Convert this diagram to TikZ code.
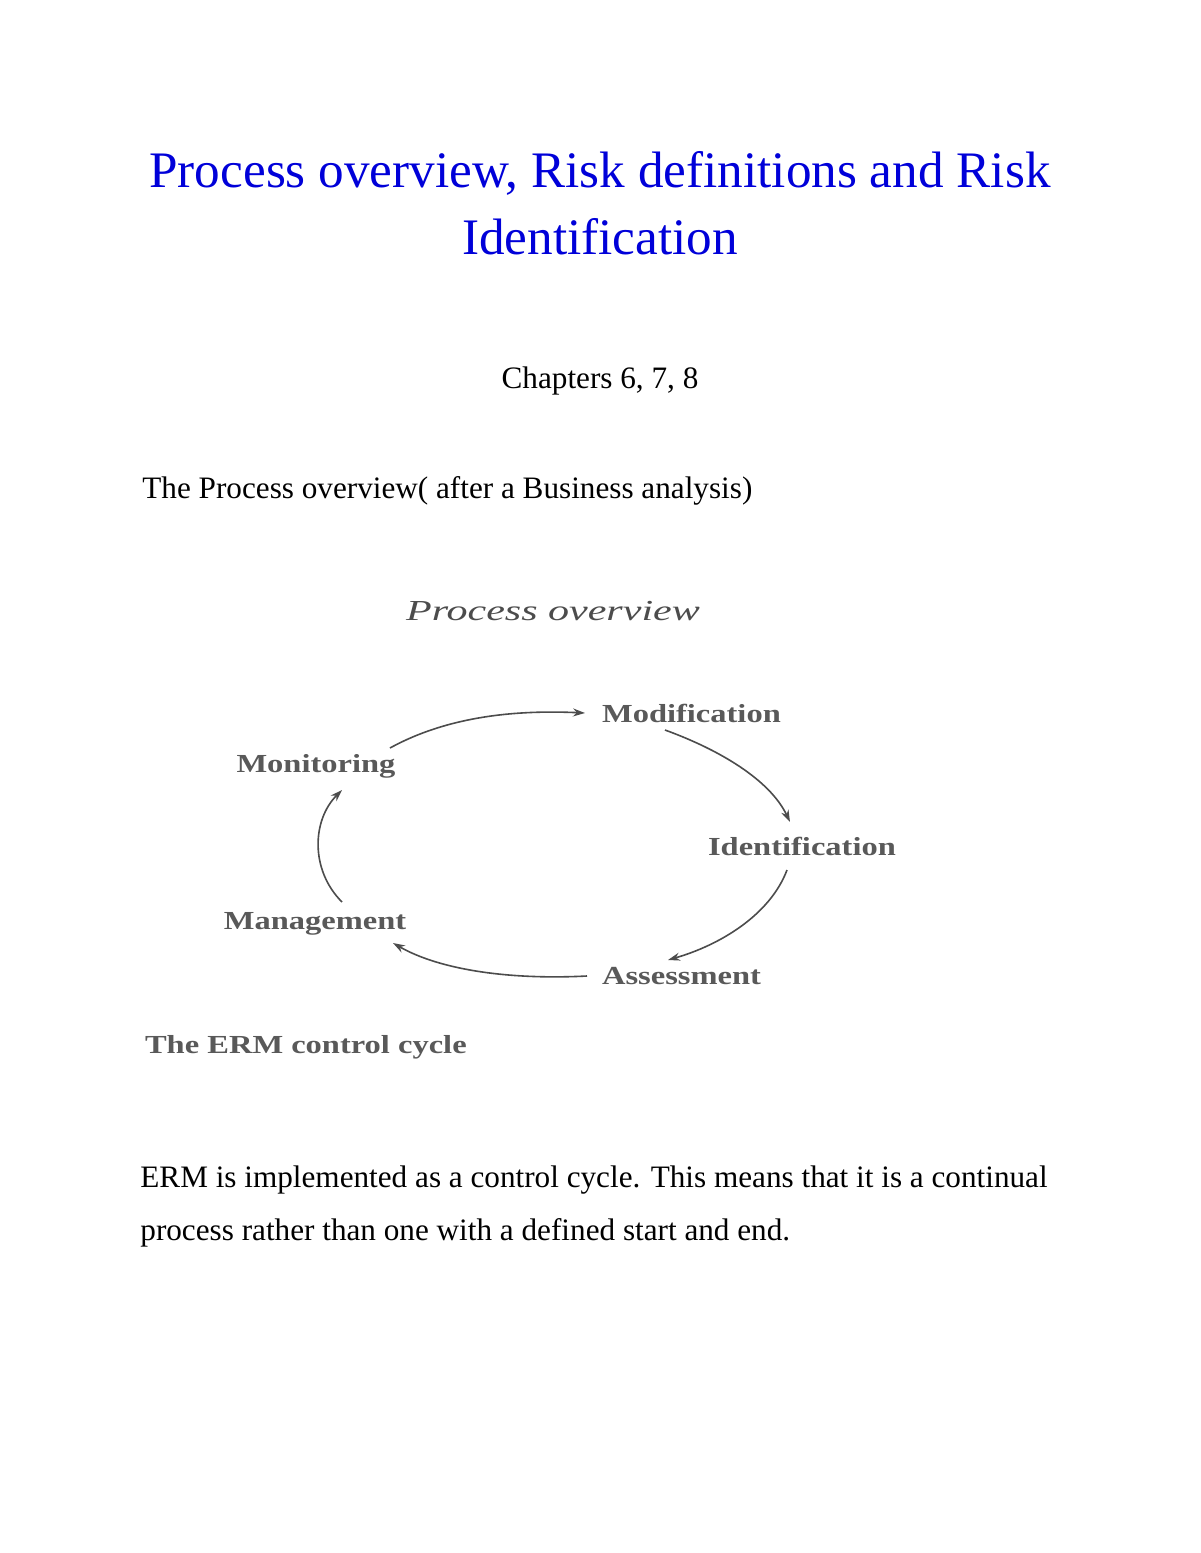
\documentclass[tikz,border=0pt]{standalone}
\usepackage{fontspec}
\setmainfont{Liberation Serif}
\newfontfamily\wideserif[FakeStretch=1.25]{Liberation Serif}
\newfontfamily\widerserif[FakeStretch=1.45]{Liberation Serif}
\usetikzlibrary{arrows.meta}
\begin{document}
\begin{tikzpicture}[x=0.5pt,y=-0.5pt,
 lab/.style={font=\wideserif\fontsize{13}{15}\selectfont\bfseries, text=black!65},
 body/.style={font=\fontsize{15.6}{18}\selectfont, anchor=west, inner sep=0},
 cyc/.style={draw=black!70, line width=0.8pt, -{Stealth[length=6pt,width=4pt]}}]
\useasboundingbox[fill=white] (0,0) rectangle (1200,1553);
\node[text=blue!85!black, font=\fontsize{25.6}{32}\selectfont] (t1) at (600,173) {Process overview, Risk definitions and Risk};
\node[text=blue!85!black, font=\fontsize{25.6}{32}\selectfont] (t2) at (600,237) {Identification};
\node[font=\fontsize{15.6}{18}\selectfont] (ch) at (600,381) {Chapters 6, 7, 8};
\node[body] (po) at (142,491) {The Process overview( after a Business analysis)};
\node[font=\widerserif\fontsize{14.5}{16}\selectfont\itshape, text=black!70] (pt) at (553,611) {Process overview};
\node[lab, anchor=west] (mod) at (595,713) {Modification};
\node[lab] (mon) at (316,766) {Monitoring};
\node[lab, anchor=west] (ide) at (701,846) {Identification};
\node[lab] (man) at (315,924) {Management};
\node[lab, anchor=west] (ass) at (595,976) {Assessment};
\node[lab, anchor=west] (cap) at (138,1047) {The ERM control cycle};
\draw[cyc] (390,748) .. controls (450,715) and (520,710) .. (585,713);
\draw[cyc] (665,730) .. controls (720,750) and (770,780) .. (790,822);
\draw[cyc] (787,870) .. controls (770,915) and (720,945) .. (668,960);
\draw[cyc] (587,976) .. controls (510,980) and (440,970) .. (393,943);
\draw[cyc] (342,902) .. controls (310,870) and (312,820) .. (342,790);
\node[body] (p1) at (140,1180) {ERM is implemented as a control cycle. This means that it is a continual};
\node[body] (p2) at (140,1233) {process rather than one with a defined start and end.};
\end{tikzpicture}
\end{document}
